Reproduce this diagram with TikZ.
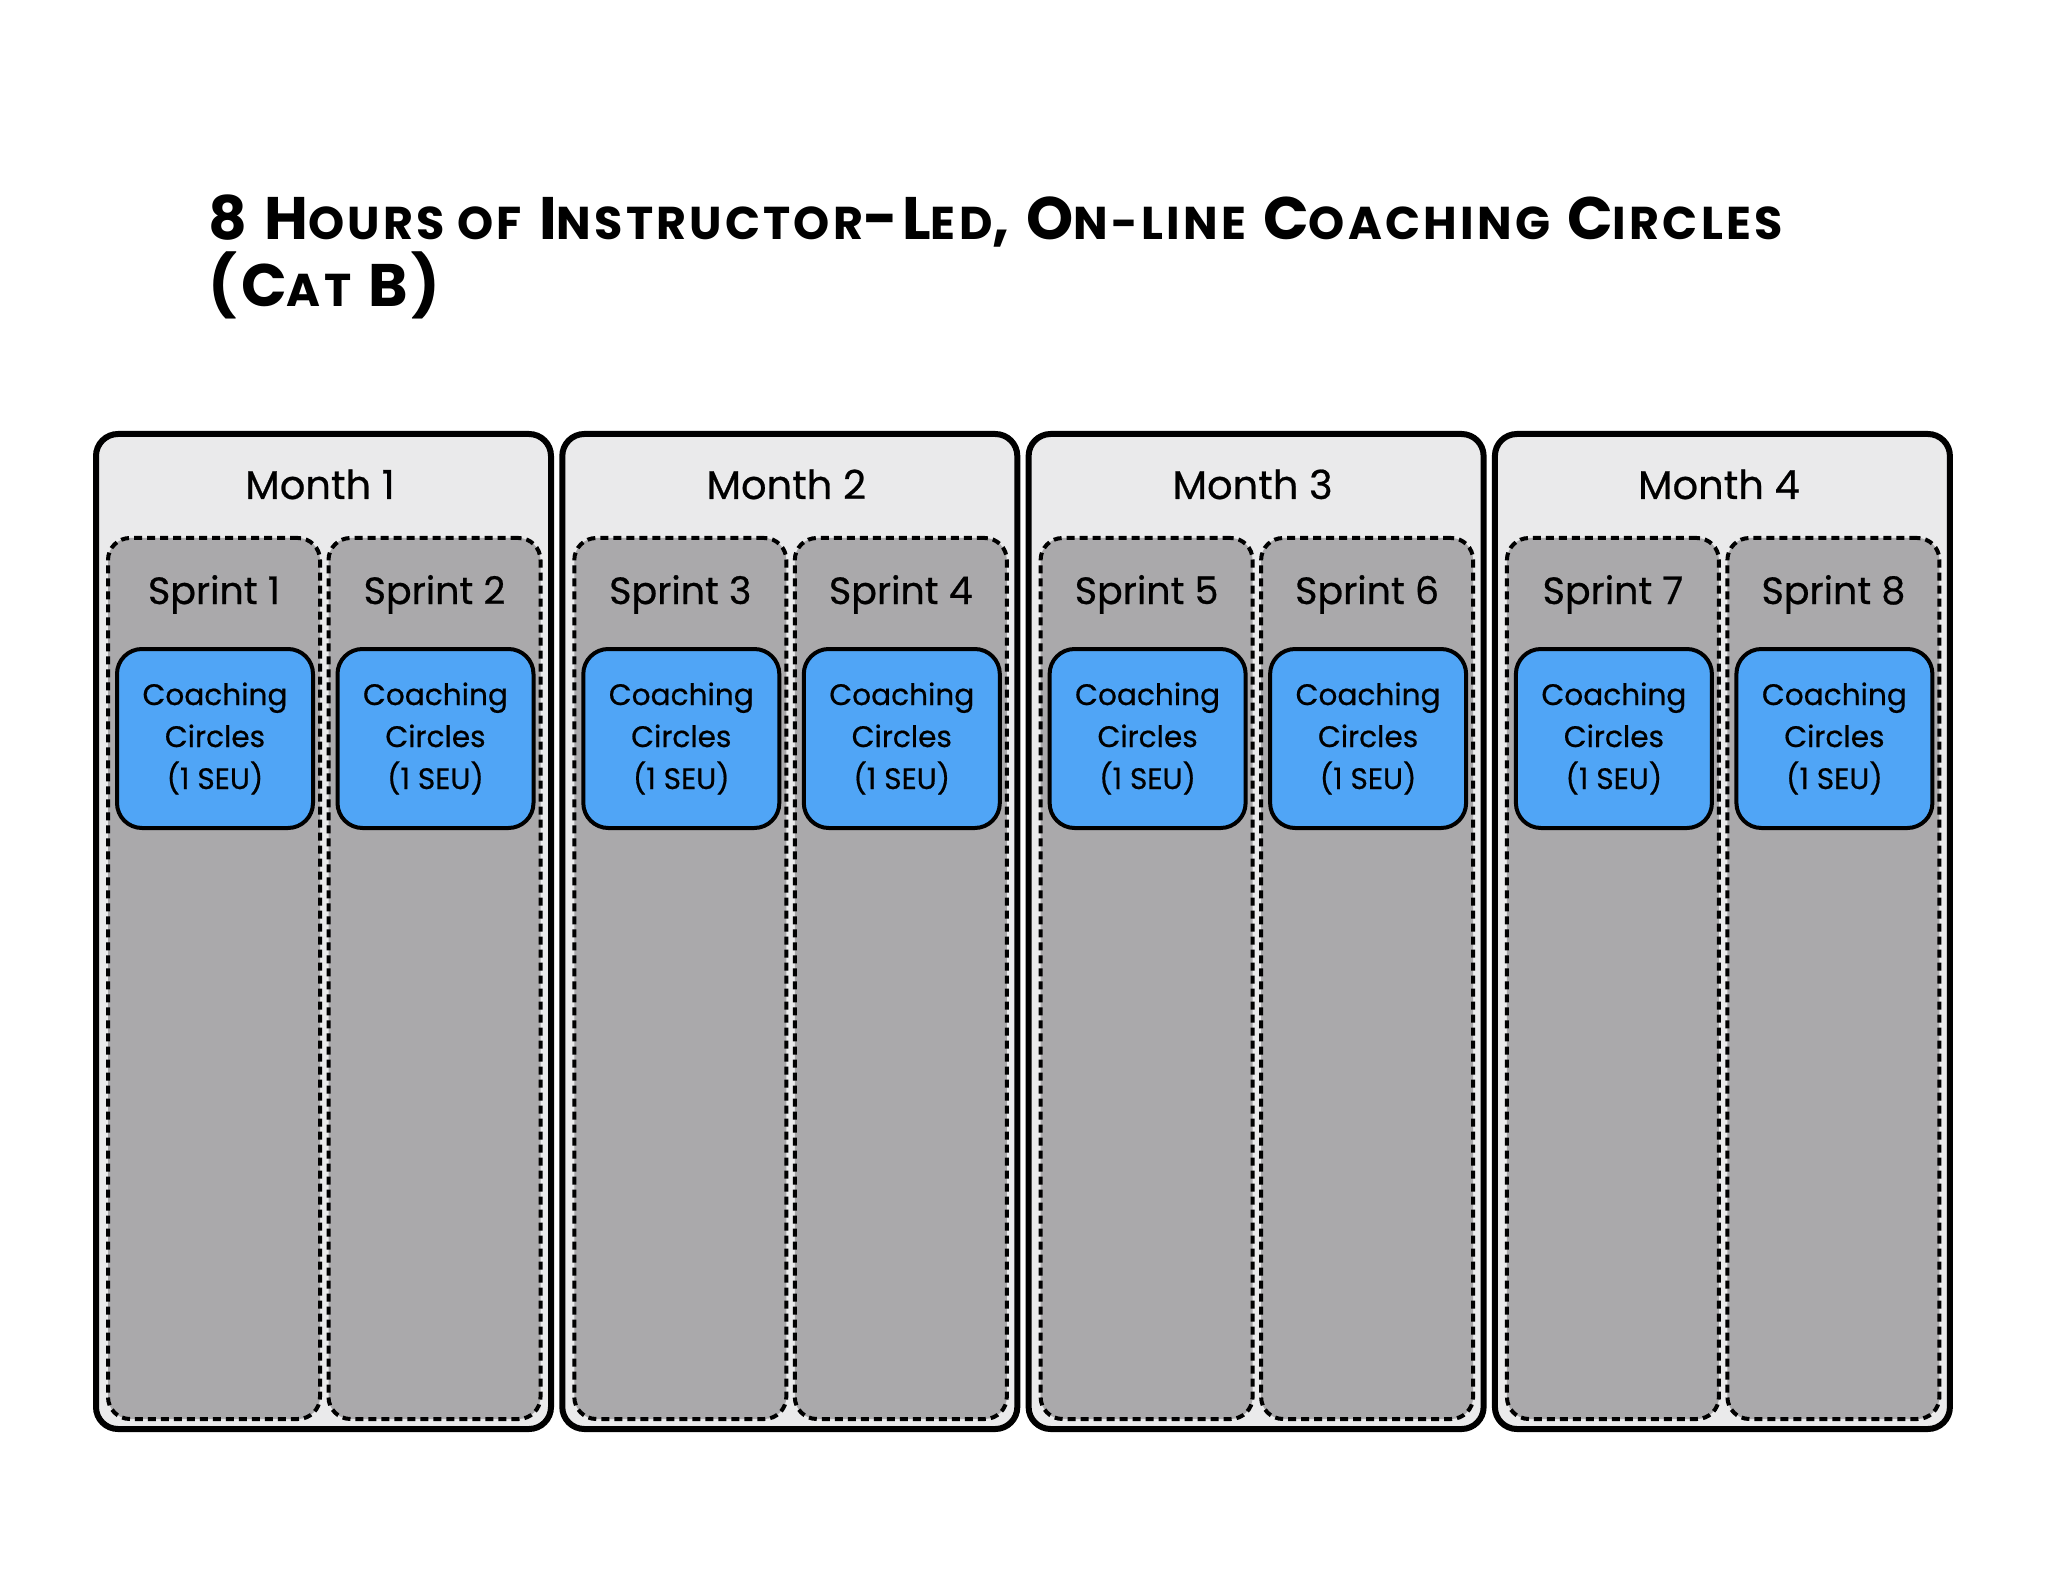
\documentclass[tikz,border=0pt]{standalone}
\usepackage{fontspec}
\setmainfont{Poppins}
\newfontfamily\medfont{Poppins}[FakeBold=0.6]
\newfontfamily\titlefont{Poppins}[LetterSpace=7]
\definecolor{monthfill}{RGB}{234,234,235}
\definecolor{sprintfill}{RGB}{170,169,171}
\definecolor{coachblue}{RGB}{80,165,246}
\newcommand\tbig[1]{{\fontsize{30pt}{30pt}\selectfont #1}}
\newcommand\tsm[1]{{\fontsize{23pt}{23pt}\selectfont #1}}
\begin{document}
\begin{tikzpicture}[x=0.5pt,y=-0.5pt,
  monthbox/.style={draw=black, line width=3pt, fill=monthfill, rounded corners=11pt,
    minimum width=227.5pt, minimum height=497.5pt, inner sep=0pt, outer sep=0pt},
  sprintbox/.style={draw=black, line width=2pt, dash pattern=on 4pt off 2.5pt, fill=sprintfill,
    rounded corners=11pt, minimum width=106pt, minimum height=440.5pt, inner sep=0pt, outer sep=0pt},
  coachbox/.style={draw=black, line width=2pt, fill=coachblue, rounded corners=12.5pt,
    minimum width=98pt, minimum height=89.5pt, inner sep=0pt, outer sep=0pt,
    align=center, font=\medfont\fontsize{14.8pt}{21pt}\selectfont},
  monthlabel/.style={anchor=base, inner sep=0pt, font=\medfont\fontsize{20pt}{24pt}\selectfont},
  sprintlabel/.style={anchor=base, inner sep=0pt, font=\medfont\fontsize{19pt}{23pt}\selectfont},
  titletext/.style={anchor=base west, inner sep=0pt, font=\titlefont\bfseries}
]
\useasboundingbox[fill=white] (0,0) rectangle (2048,1582);

\node[titletext] (title1) at (208,240) {\tbig{8 H}\tsm{OURS OF}\tbig{ I}\tsm{NSTRUCTOR}\tbig{-L}\tsm{ED}\tbig{, O}\tsm{N-LINE}\tbig{ C}\tsm{OACHING}\tbig{ C}\tsm{IRCLES}};
\node[titletext] (title2) at (208,307) {\tbig{(C}\tsm{AT}\tbig{ B)}};

\foreach \m in {0,...,3} {
  \pgfmathsetmacro\L{96+466.3*\m}
  \pgfmathtruncatemacro\mm{\m+1}
  \pgfmathtruncatemacro\sa{2*\m+1}
  \pgfmathtruncatemacro\sb{2*\m+2}
  \node[monthbox] (month\mm) at (\L+227.5,931.5) {};
  \node[monthlabel] (monthlabel\mm) at (\L+224,499) {Month \mm};
  \node[sprintbox] (sprint\sa) at (\L+118,978.5) {};
  \node[sprintbox] (sprint\sb) at (\L+338.5,978.5) {};
  \node[sprintlabel] (sprintlabel\sa) at (\L+118,604) {Sprint \sa};
  \node[sprintlabel] (sprintlabel\sb) at (\L+338.5,604) {Sprint \sb};
  \node[coachbox] (coach\sa) at (\L+119,738.5) {Coaching\\Circles\\(1 SEU)};
  \node[coachbox] (coach\sb) at (\L+339.5,738.5) {Coaching\\Circles\\(1 SEU)};
}
\end{tikzpicture}
\end{document}
